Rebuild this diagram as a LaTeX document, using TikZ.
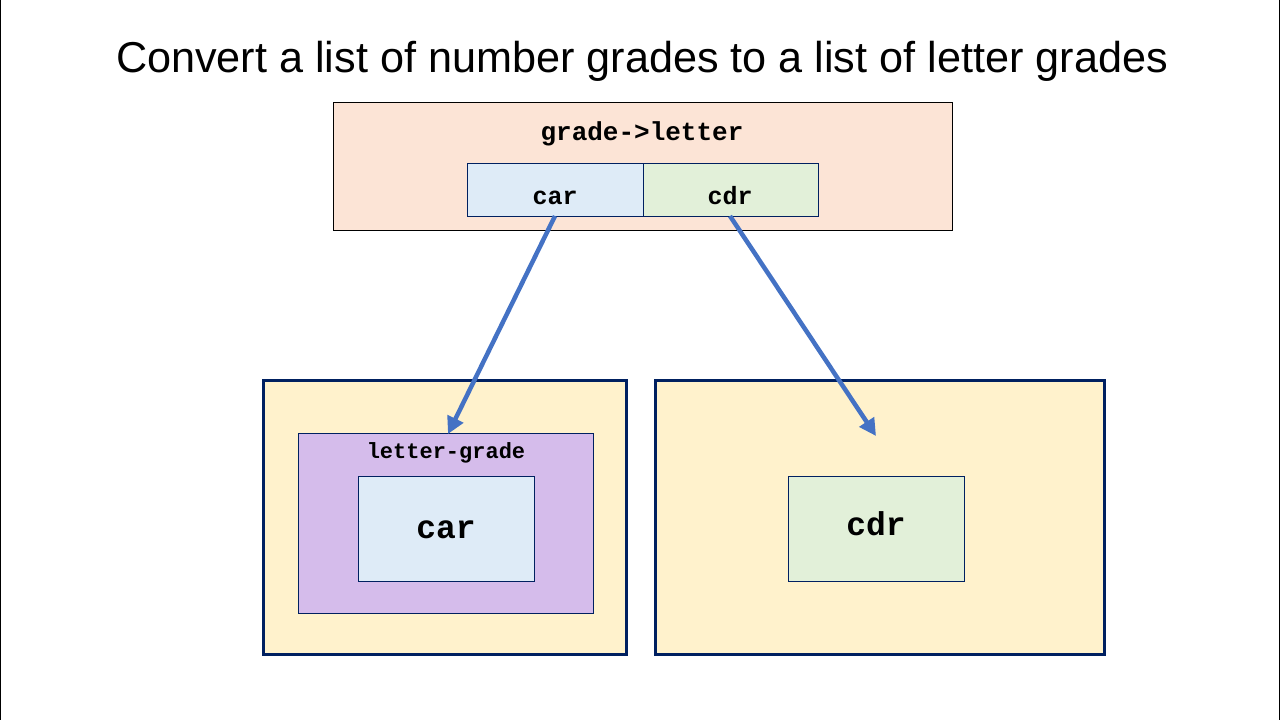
\documentclass[tikz,border=0pt]{standalone}
\usepackage{fontspec}
\setmainfont{Liberation Sans}
\newfontfamily\codefont{Liberation Mono}
\usetikzlibrary{arrows.meta}
\definecolor{Peach}{RGB}{252, 228, 214}
\definecolor{Blue10}{RGB}{222, 235, 247}
\definecolor{Green10}{RGB}{226, 240, 217}
\definecolor{Cream}{RGB}{255, 242, 204}
\definecolor{Lilac}{RGB}{213, 188, 235}
\definecolor{Navy}{RGB}{0, 32, 96}
\definecolor{Arrow}{RGB}{68, 114, 196}

\begin{document}
\begin{tikzpicture}[
        x=1pt, y=-1pt,
        box/.style = {draw=Navy, line width=0.8pt, inner sep=0pt, anchor=north west},
        frame/.style = {draw=Navy, line width=3pt, fill=Cream, inner sep=0pt, anchor=north west},
        code/.style = {font=\codefont\bfseries, inner sep=0pt, anchor=base},
        link/.style = {draw=Arrow, line width=4.5pt, -{Triangle[length=17pt, width=17pt]}}
    ]
    \useasboundingbox (0,0) rectangle (1280,720);
    \draw[line width=1.2pt] (0.6,0) -- (0.6,720);
    \draw[line width=1.2pt] (1279.4,0) -- (1279.4,720);

    \node (title) at (642,72) [anchor=base, inner sep=0pt, font=\fontsize{43.2}{48}\selectfont]
        {Convert a list of number grades to a list of letter grades};

    % the function and its argument
    \node (fn) at (333,102) [box, draw=black, fill=Peach, minimum width=619, minimum height=128] {};
    \node (fnname) at (642,140) [code, font=\fontsize{26}{30}\codefont\bfseries] {grade->letter};
    \node (car) at (467,163) [box, fill=Blue10, minimum width=176, minimum height=53] {};
    \node (cdr) at (643,163) [box, fill=Green10, minimum width=175, minimum height=53] {};
    \node (carname) at (555,204) [code, font=\fontsize{25}{30}\codefont\bfseries] {car};
    \node (cdrname) at (730,204) [code, font=\fontsize{25}{30}\codefont\bfseries] {cdr};

    % the two results
    \node (left) at (262,379) [frame, minimum width=363, minimum height=274] {};
    \node (right) at (654,379) [frame, minimum width=449, minimum height=274] {};

    \node (lg) at (298,433) [box, fill=Lilac, minimum width=295, minimum height=180] {};
    \node (lgname) at (446,458) [code, font=\fontsize{22}{26}\codefont\bfseries] {letter-grade};
    \node (carbox) at (358,476) [box, fill=Blue10, minimum width=176, minimum height=105] {};
    \node (carbig) at (446,538) [code, font=\fontsize{33}{38}\codefont\bfseries] {car};

    \node (cdrbox) at (788,476) [box, fill=Green10, minimum width=176, minimum height=105] {};
    \node (cdrbig) at (876,535) [code, font=\fontsize{33}{38}\codefont\bfseries] {cdr};

    \coordinate (carfoot) at (555,216);
    \coordinate (cdrfoot) at (730,216);
    \coordinate (lgtip) at (448,434);
    \coordinate (cdrtip) at (876,436);

    \draw[link] (carfoot) -- (lgtip);
    \draw[link] (cdrfoot) -- (cdrtip);
\end{tikzpicture}
\end{document}
